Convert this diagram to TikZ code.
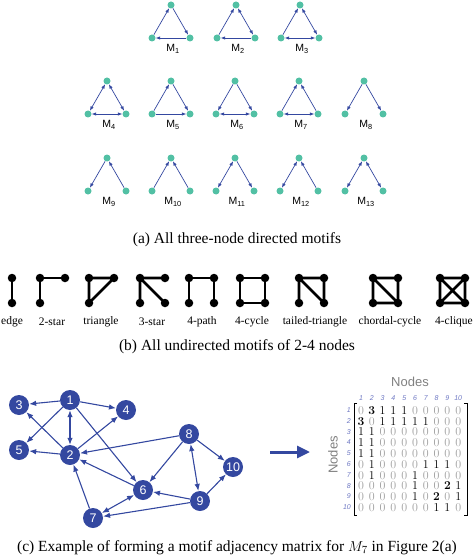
\documentclass[tikz,border=0pt]{standalone}
\usepackage{amsmath}
\usepackage[no-math]{fontspec}
\setmainfont{Liberation Serif}
\setsansfont{Liberation Sans}
\usetikzlibrary{arrows.meta}
\definecolor{motifgreen}{RGB}{82,192,164}
\definecolor{netblue}{RGB}{52,72,160}
\definecolor{idxblue}{RGB}{110,120,195}
\tikzset{
  mnode/.style = {circle, fill=motifgreen, inner sep=0pt, minimum size=7pt},
  mlabel/.style = {font=\sffamily\fontsize{10.5}{12}\selectfont, inner sep=0pt},
  marc/.style = {draw=netblue, line width=0.7pt, -{Latex[length=4.5pt,width=3.5pt]}},
  marcb/.style = {draw=netblue, line width=0.7pt, {Latex[length=4.5pt,width=3.5pt]}-{Latex[length=4.5pt,width=3.5pt]}},
  udot/.style = {circle, fill=black, inner sep=0pt, minimum size=8.5pt},
  uedge/.style = {line width=2.6pt, line cap=round, line join=round},
  ulabel/.style = {font=\fontsize{11.5}{13}\selectfont, inner sep=0pt},
  caption/.style = {font=\fontsize{15.5}{18}\selectfont, inner sep=0pt},
  gnode/.style = {circle, fill=netblue, text=white, inner sep=0pt, minimum size=20pt,
                  font=\sffamily\fontsize{12.5}{14}\selectfont},
  garc/.style = {draw=netblue, line width=1.1pt, -{Latex[length=7pt,width=5.5pt]}},
  garcb/.style = {draw=netblue, line width=1.1pt, {Latex[length=7pt,width=5.5pt]}-{Latex[length=7pt,width=5.5pt]}},
  entry/.style = {inner sep=0pt, font=\fontsize{11.5}{12}\selectfont},
  idx/.style = {inner sep=0pt, text=idxblue, font=\sffamily\itshape\fontsize{7}{8}\selectfont}
}
% three node directed motif: x, y, name, index
\newcommand{\dmotif}[4]{%
  \node[mnode] (#3t) at (#1,#2) {};
  \node[mnode] (#3l) at (#1-19,#2+33) {};
  \node[mnode] (#3r) at (#1+19,#2+33) {};
  \node[mlabel] (#3lab) at (#1+2,#2+44) {M\textsubscript{#4}};
}
% corners of an undirected motif
\newcommand{\ucorners}[2]{%
  \coordinate (#2a) at (#1,278);
  \coordinate (#2b) at (#1+25,278);
  \coordinate (#2c) at (#1,303);
  \coordinate (#2d) at (#1+25,303);
}

\begin{document}
\begin{tikzpicture}[x=1pt,y=-1pt]
\useasboundingbox (0,0) rectangle (474,559);

% (a) directed motifs
\dmotif{171}{5}{m1}{1}
\dmotif{236}{5}{m2}{2}
\dmotif{300}{5}{m3}{3}
\dmotif{107}{81}{m4}{4}
\dmotif{171}{81}{m5}{5}
\dmotif{235}{81}{m6}{6}
\dmotif{299}{81}{m7}{7}
\dmotif{364}{81}{m8}{8}
\dmotif{107}{158}{m9}{9}
\dmotif{171}{158}{m10}{10}
\dmotif{235}{158}{m11}{11}
\dmotif{299}{158}{m12}{12}
\dmotif{364}{158}{m13}{13}

\draw[marc] (m1l) -- (m1t);
\draw[marc] (m1t) -- (m1r);
\draw[marc] (m1r) -- (m1l);
\draw[marc] (m2l) -- (m2t);
\draw[marcb] (m2t) -- (m2r);
\draw[marc] (m2r) -- (m2l);
\draw[marc] (m3l) -- (m3t);
\draw[marcb] (m3t) -- (m3r);
\draw[marcb] (m3l) -- (m3r);
\draw[marcb] (m4t) -- (m4l);
\draw[marcb] (m4t) -- (m4r);
\draw[marcb] (m4l) -- (m4r);
\draw[marc] (m5l) -- (m5t);
\draw[marc] (m5t) -- (m5r);
\draw[marc] (m5l) -- (m5r);
\draw[marc] (m6t) -- (m6l);
\draw[marc] (m6t) -- (m6r);
\draw[marcb] (m6l) -- (m6r);
\draw[marc] (m7l) -- (m7t);
\draw[marc] (m7r) -- (m7t);
\draw[marcb] (m7l) -- (m7r);
\draw[marc] (m8t) -- (m8l);
\draw[marc] (m8t) -- (m8r);
\draw[marc] (m9t) -- (m9l);
\draw[marc] (m9r) -- (m9t);
\draw[marc] (m10l) -- (m10t);
\draw[marc] (m10r) -- (m10t);
\draw[marcb] (m11t) -- (m11l);
\draw[marc] (m11t) -- (m11r);
\draw[marcb] (m12t) -- (m12l);
\draw[marc] (m12r) -- (m12t);
\draw[marcb] (m13t) -- (m13l);
\draw[marcb] (m13t) -- (m13r);

\node[caption] (capa) at (237,240) {(a) All three-node directed motifs};

% (b) undirected motifs
\coordinate (eda) at (12,278);
\coordinate (edc) at (12,303);
\ucorners{40}{st}
\ucorners{89}{tr}
\ucorners{140}{ts}
\ucorners{189}{pa}
\ucorners{240}{cy}
\ucorners{299}{tt}
\ucorners{373}{ch}
\ucorners{440}{cl}

\draw[uedge] (eda) -- (edc);
\draw[uedge] (stc) -- (sta) -- (stb);
\draw[uedge] (tra) -- (trb) -- (trc) -- cycle;
\draw[uedge] (tsb) -- (tsa) -- (tsc) (tsa) -- (tsd);
\draw[uedge] (pac) -- (paa) -- (pab) -- (pad);
\draw[uedge] (cya) -- (cyb) -- (cyd) -- (cyc) -- cycle;
\draw[uedge] (ttc) -- (tta) -- (ttb) -- (ttd) -- (tta);
\draw[uedge] (cha) -- (chb) -- (chd) -- (chc) -- cycle (cha) -- (chd);
\draw[uedge] (cla) -- (clb) -- (cld) -- (clc) -- cycle (cla) -- (cld) (clb) -- (clc);

\foreach \c in {a,c} \node[udot] (ed\c dot) at (ed\c) {};
\foreach \c in {a,b,c} \node[udot] (st\c dot) at (st\c) {};
\foreach \c in {a,b,c} \node[udot] (tr\c dot) at (tr\c) {};
\foreach \c in {a,b,c,d} \node[udot] (ts\c dot) at (ts\c) {};
\foreach \c in {a,b,c,d} \node[udot] (pa\c dot) at (pa\c) {};
\foreach \c in {a,b,c,d} \node[udot] (cy\c dot) at (cy\c) {};
\foreach \c in {a,b,c,d} \node[udot] (tt\c dot) at (tt\c) {};
\foreach \c in {a,b,c,d} \node[udot] (ch\c dot) at (ch\c) {};
\foreach \c in {a,b,c,d} \node[udot] (cl\c dot) at (cl\c) {};

\node[ulabel] (led) at (12,322) {edge};
\node[ulabel] (lst) at (52,322) {2-star};
\node[ulabel] (ltr) at (101,322) {triangle};
\node[ulabel] (lts) at (152,322) {3-star};
\node[ulabel] (lpa) at (202,322) {4-path};
\node[ulabel] (lcy) at (252,322) {4-cycle};
\node[ulabel] (ltt) at (315,322) {tailed-triangle};
\node[ulabel] (lch) at (390,322) {chordal-cycle};
\node[ulabel] (lcl) at (454,322) {4-clique};

\node[caption] (capb) at (237,347) {(b) All undirected motifs of 2-4 nodes};

% (c) network and motif adjacency matrix
\node[gnode] (g1) at (70,400) {1};
\node[gnode] (g2) at (70,455) {2};
\node[gnode] (g3) at (19,405) {3};
\node[gnode] (g4) at (126,410) {4};
\node[gnode] (g5) at (19,450) {5};
\node[gnode] (g6) at (143,490) {6};
\node[gnode] (g7) at (93,518) {7};
\node[gnode] (g8) at (189,434) {8};
\node[gnode] (g9) at (200,501) {9};
\node[gnode] (g10) at (233,467) {10};

\draw[garc] (g1) -- (g3);
\draw[garc] (g1) -- (g4);
\draw[garc] (g1) -- (g5);
\draw[garcb] (g1) -- (g2);
\draw[garc] (g1) -- (g6);
\draw[garc] (g2) -- (g3);
\draw[garc] (g2) -- (g4);
\draw[garc] (g2) -- (g5);
\draw[garc] (g8) -- (g2);
\draw[garc] (g6) -- (g2);
\draw[garc] (g7) -- (g2);
\draw[garc] (g8) -- (g6);
\draw[garcb] (g8) -- (g9);
\draw[garc] (g8) -- (g10);
\draw[garc] (g9) -- (g10);
\draw[garc] (g9) -- (g6);
\draw[garc] (g9) -- (g7);
\draw[garcb] (g6) -- (g7);

\coordinate (arrs) at (270,452);
\coordinate (arre) at (310,452);
\draw[draw=netblue, line width=3pt, -{Triangle[length=13pt,width=12pt]}] (arrs) -- (arre);

\node[font=\sffamily\fontsize{13}{14}\selectfont, text=gray, inner sep=0pt] (ntop) at (410,382) {Nodes};
\node[font=\sffamily\fontsize{13}{14}\selectfont, text=gray, inner sep=0pt, rotate=90] (nleft) at (333,455) {Nodes};

\foreach \j in {1,...,10}
  \node[idx] (c\j) at (361+10.8*\j-10.8,398.5) {\j};
\foreach \rowvals [count=\i] in {{0,3,1,1,1,0,0,0,0,0},{3,0,1,1,1,1,1,0,0,0},
    {1,1,0,0,0,0,0,0,0,0},{1,1,0,0,0,0,0,0,0,0},{1,1,0,0,0,0,0,0,0,0},
    {0,1,0,0,0,0,1,1,1,0},{0,1,0,0,0,1,0,0,0,0},{0,0,0,0,0,1,0,0,2,1},
    {0,0,0,0,0,1,0,2,0,1},{0,0,0,0,0,0,0,1,1,0}}{
  \node[idx, anchor=east] (r\i) at (351,410+10.8*\i-10.8) {\i};
  \foreach \v [count=\j] in \rowvals
    \node[entry] (a\i-\j) at (361+10.8*\j-10.8,410.5+10.8*\i-10.8)
      {$\ifcase\v\relax{\color{gray!75}0}\or 1\or\mathbf{2}\or\mathbf{3}\fi$};
}
\draw[line width=0.9pt] (357,403) -- (354,403) -- (354,515) -- (357,515);
\draw[line width=0.9pt] (464,403) -- (467,403) -- (467,515) -- (464,515);

\node[caption] (capc) at (237,548) {(c) Example of forming a motif adjacency matrix for $M_7$ in Figure 2(a)};
\end{tikzpicture}
\end{document}
